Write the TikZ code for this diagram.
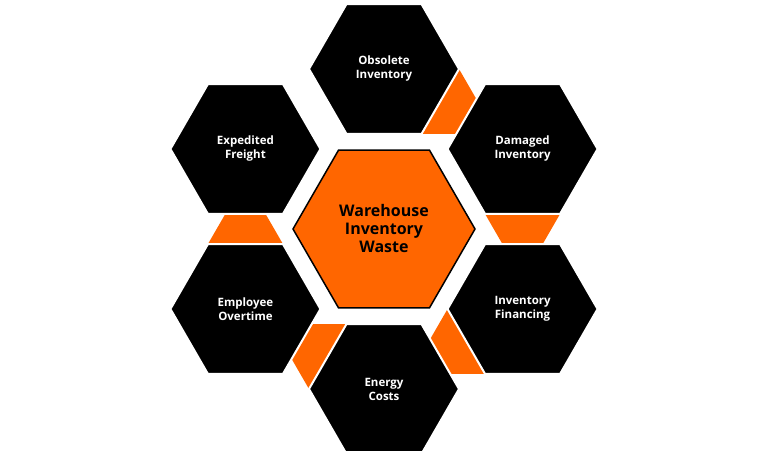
\documentclass[tikz,border=0pt]{standalone}
\usepackage{fontspec}
\setmainfont{Open Sans}
\usetikzlibrary{calc}
\definecolor{orng}{HTML}{FF6600}
\tikzset{
  lbl/.style={text=white,font=\bfseries\fontsize{11.5}{14}\selectfont,align=center},
  clbl/.style={text=black,font=\bfseries\fontsize{16}{18}\selectfont,align=center},
}
\begin{document}
\begin{tikzpicture}[x=1pt,y=1pt]
\useasboundingbox (0,0) rectangle (768,450);
\coordinate (c) at (384,221);
% orange connectors
\foreach \t in {90,30,-30,-90,-150}{
  \pgfmathsetmacro{\ph}{\t-120}
  \fill[orng] ($(c)+(\t:160)+(\ph+30:75)$) -- ($(c)+(\t:160)+(\ph+30:75)+(\ph-30:34.6)$)
     -- ($(c)+(\t:160)+(\ph-30:75)+(\ph+30:34.6)$) -- ($(c)+(\t:160)+(\ph-30:75)$) -- cycle;
}
% outer hexagons
\foreach \t in {90,30,-30,-90,-150,150}{
  \filldraw[fill=black,draw=white,line width=2pt] ($(c)+(\t:160)+(0:75)$)
    \foreach \k in {1,...,5}{ -- ($(c)+(\t:160)+(\k*60:75)$)} -- cycle;
}
% centre
\filldraw[fill=orng,draw=black,line width=1.5pt] ($(c)+(0:91)$)
    \foreach \k in {1,...,5}{ -- ($(c)+(\k*60:91)$)} -- cycle;
\node[clbl] (w) at (c) {Warehouse\\Inventory\\Waste};
\node[lbl] (o) at ($(c)+(90:160)$) {Obsolete\\Inventory};
\node[lbl] (d) at ($(c)+(30:160)$) {Damaged\\Inventory};
\node[lbl] (f) at ($(c)+(-30:160)$) {Inventory\\Financing};
\node[lbl] (e) at ($(c)+(-90:160)$) {Energy\\Costs};
\node[lbl] (m) at ($(c)+(-150:160)$) {Employee\\Overtime};
\node[lbl] (x) at ($(c)+(150:160)$) {Expedited\\Freight};
\end{tikzpicture}
\end{document}
